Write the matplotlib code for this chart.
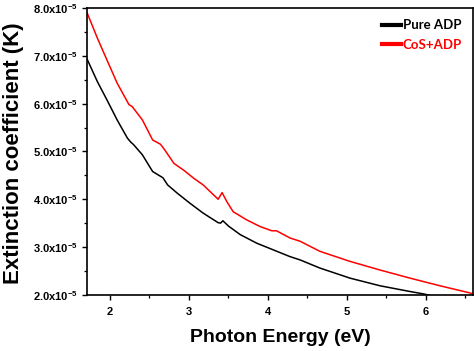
import matplotlib
matplotlib.use("Agg")
import matplotlib.pyplot as plt
import numpy as np
from matplotlib.ticker import FuncFormatter, MultipleLocator

plt.rcParams['font.family'] = ['Liberation Sans', 'DejaVu Sans']
plt.rcParams['mathtext.fontset'] = 'custom'
plt.rcParams['mathtext.rm'] = 'Liberation Sans:bold'
plt.rcParams['mathtext.it'] = 'Liberation Sans:bold'
plt.rcParams['mathtext.default'] = 'rm'

# photon energy (eV) and extinction coefficient (in units of 1e-5)
e_pure = [1.71, 1.84, 1.97, 2.09, 2.22, 2.26, 2.30, 2.41, 2.54, 2.64, 2.67, 2.73, 2.85,
          3.01, 3.18, 3.37, 3.40, 3.43, 3.50, 3.65, 3.86, 4.07, 4.28, 4.41, 4.66, 5.04,
          5.42, 5.80, 5.97, 6.05]
k_pure = [6.93, 6.46, 6.05, 5.66, 5.28, 5.20, 5.14, 4.93, 4.58, 4.48, 4.45, 4.30, 4.13,
          3.92, 3.71, 3.51, 3.50, 3.55, 3.44, 3.26, 3.08, 2.94, 2.80, 2.73, 2.56, 2.35,
          2.19, 2.07, 2.02, 1.99]

e_cos = [1.71, 1.84, 1.97, 2.09, 2.24, 2.28, 2.41, 2.54, 2.64, 2.69, 2.81, 2.94, 3.06,
         3.18, 3.37, 3.42, 3.48, 3.56, 3.73, 3.90, 4.05, 4.11, 4.28, 4.41, 4.66, 5.04,
         5.42, 5.80, 6.18, 6.56, 6.60]
k_cos = [7.90, 7.37, 6.88, 6.43, 5.98, 5.94, 5.66, 5.24, 5.15, 5.04, 4.75, 4.60, 4.44,
         4.30, 4.00, 4.14, 3.95, 3.74, 3.57, 3.43, 3.34, 3.34, 3.19, 3.12, 2.91, 2.70,
         2.52, 2.35, 2.19, 2.04, 2.02]

fig = plt.figure(figsize=(4.74, 3.51), dpi=100)
ax = fig.add_axes([0.183, 0.16, 0.815, 0.817])

ax.plot(e_pure, k_pure, color="black", lw=1.1, label="Pure ADP")
ax.plot(e_cos, k_cos, color="red", lw=1.1, label="CoS+ADP")

ax.set_xlim(1.705, 6.6)
ax.set_ylim(2.0, 8.0)
ax.xaxis.set_major_locator(MultipleLocator(1))
ax.xaxis.set_minor_locator(MultipleLocator(0.5))
ax.yaxis.set_major_locator(MultipleLocator(1))
ax.yaxis.set_minor_locator(MultipleLocator(0.5))
ax.yaxis.set_major_formatter(FuncFormatter(lambda v, p: f"{v:.1f}x10$^{{-5}}$"))

for s in ax.spines.values():
    s.set_linewidth(1.2)
ax.tick_params(which="major", direction="out", length=3.5, width=1.0, labelsize=8, pad=3)
ax.tick_params(which="minor", direction="out", length=2, width=0.9)
ax.tick_params(axis="x", pad=5)
for lab in ax.get_xticklabels() + ax.get_yticklabels():
    lab.set_fontweight("bold")

ax.set_xlabel("Photon Energy (eV)", fontsize=14, fontweight="bold")
ax.set_ylabel("Extinction coefficient (K)", fontsize=16, fontweight="bold")
ax.xaxis.set_label_coords(0.5, -0.118)
ax.yaxis.set_label_coords(-0.162, 0.495)

leg = ax.legend(loc="upper right", frameon=False, handlelength=1.45, handletextpad=0.1,
                labelspacing=0.55, borderaxespad=0.45,
                prop={"family": "Lato", "weight": "bold", "size": 9.5},
                labelcolor=["black", "red"])
for h in leg.legend_handles:
    h.set_linewidth(3)

fig.savefig("out.png", dpi=100)
